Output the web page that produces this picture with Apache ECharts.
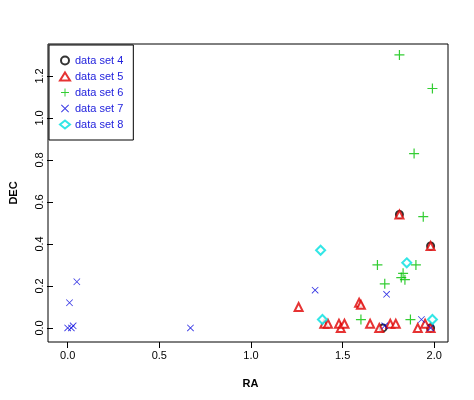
<!DOCTYPE html><html><head><meta charset="utf-8"><script src="https://cdn.jsdelivr.net/npm/echarts@6/dist/echarts.min.js"></script></head><body style="margin:0"><div id="c" style="width:474px;height:400px"></div><script>
const set4=[[1.81,0.54],[1.98,0.39],[1.98,0.0],[1.72,0.0]];
const set5=[[1.26,0.10],[1.40,0.02],[1.42,0.02],[1.48,0.02],[1.49,0.0],[1.51,0.02],[1.59,0.12],[1.60,0.11],[1.65,0.02],[1.70,0.0],[1.76,0.02],[1.79,0.02],[1.81,0.54],[1.91,0.0],[1.95,0.02],[1.98,0.39],[1.98,0.0]];
const set6=[[1.81,1.30],[1.99,1.14],[1.89,0.83],[1.94,0.53],[1.69,0.30],[1.90,0.30],[1.73,0.21],[1.82,0.24],[1.83,0.26],[1.84,0.23],[1.60,0.04],[1.87,0.04]];
const set7=[[0.0,0.0],[0.01,0.12],[0.02,0.0],[0.05,0.22],[0.03,0.01],[0.67,0.0],[1.35,0.18],[1.74,0.16],[1.73,0.01],[1.93,0.04],[1.98,0.0]];
const set8=[[1.38,0.37],[1.39,0.04],[1.85,0.31],[1.99,0.04]];
const names=['data set 4','data set 5','data set 6','data set 7','data set 8'];
const plus='path://M4.4,0h1.2v10h-1.2z M0,4.4h10v1.2h-10z';
const cross='path://M0,0.8L0.8,0L10,9.2L9.2,10z M9.2,0L10,0.8L0.8,10L0,9.2z';
const defs=[[set4,'emptyCircle','#000',7],[set5,'emptyTriangle','#e00000',8],[set6,plus,'#00c000',10],[set7,cross,'#0000dd',7],[set8,'emptyDiamond','#00e0e0',9]];
const ch=echarts.init(document.getElementById('c'));
ch.setOption({animation:false,
grid:{left:48,right:26,top:44,bottom:58},
legend:{left:49,top:45,orient:'vertical',itemGap:5,padding:[10,10,10,10],borderColor:'#000',borderWidth:1,borderRadius:0,itemWidth:10,itemHeight:8,width:96,
 textStyle:{color:'#2222dd',fontSize:11,fontFamily:'Liberation Sans'},data:names},
xAxis:{type:'value',min:-0.08,max:2.075,name:'RA',nameLocation:'middle',nameGap:36,
 nameTextStyle:{fontWeight:'bold',fontSize:11,color:'#000'},
 axisLine:{show:false,onZero:false},splitLine:{show:false},
 axisLabel:{color:'#000',fontSize:11,customValues:[0,0.5,1,1.5,2],formatter:v=>v.toFixed(1)},
 axisTick:{show:true,customValues:[0,0.5,1,1.5,2],lineStyle:{color:'#000'},length:6}},
yAxis:{type:'value',min:-0.067,max:1.352,name:'DEC',nameLocation:'middle',nameGap:34,
 nameTextStyle:{fontWeight:'bold',fontSize:11,color:'#000'},
 axisLine:{show:false,onZero:false},splitLine:{show:false},
 axisLabel:{color:'#000',fontSize:11,rotate:90,customValues:[0,0.2,0.4,0.6,0.8,1,1.2],formatter:v=>v.toFixed(1)},
 axisTick:{show:true,customValues:[0,0.2,0.4,0.6,0.8,1,1.2],lineStyle:{color:'#000'},length:6}},
graphic:[{type:'rect',shape:{x:48,y:44,width:400,height:298},style:{fill:'none',stroke:'#000',lineWidth:1},z:100}],
series:defs.map((d,i)=>({type:'scatter',name:names[i],data:d[0],symbol:d[1],symbolSize:d[3],
 itemStyle:{color:d[2],borderColor:d[2],borderWidth:d[1].startsWith('path')?0:1.3}}))
});
</script></body></html>
